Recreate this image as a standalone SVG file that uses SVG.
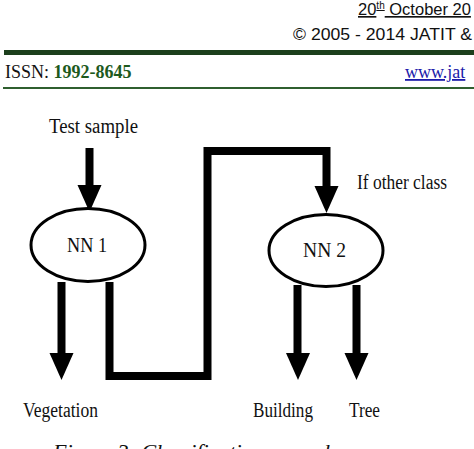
<svg xmlns="http://www.w3.org/2000/svg" width="474" height="449" viewBox="0 0 474 449">
<style>
.hdr{font-family:"Liberation Sans",Arial,sans-serif;fill:#111}
.tm{font-family:"Liberation Serif","Times New Roman",serif;fill:#111}
.lbl{font-family:"Liberation Serif","Times New Roman",serif;font-size:20px;fill:#111}
.node ellipse{fill:#fff;stroke:#000;stroke-width:3}
.wire{fill:none;stroke:#000;stroke-width:8;stroke-linejoin:miter;stroke-linecap:butt}
.head{fill:#000}
</style>
<defs>
<path id="ah" d="M-12,0 L12,0 L0,27 Z"/>
</defs>
<rect width="474" height="449" fill="#fff"/>
<g id="header">
<text class="hdr" x="358" y="15" font-size="16.5" text-decoration="underline">20<tspan font-size="10" dy="-6">th</tspan><tspan dy="6"> October 20</tspan></text>
<text class="hdr" x="293" y="40" font-size="17" textLength="179" lengthAdjust="spacingAndGlyphs">© 2005 - 2014 JATIT &amp;</text>
<rect x="4" y="50" width="470" height="5" fill="#1c3f1c"/>
<text class="tm" x="5" y="78" font-size="18">ISSN: <tspan fill="#1d5a1d" font-weight="bold">1992-8645</tspan></text>
<text class="tm" x="405" y="78" font-size="18" style="fill:#1a1aaa" text-decoration="underline">www.jat</text>
<rect x="3" y="87" width="471" height="2" fill="#2f5f2f"/>
</g>
<g id="connectors">
<path class="wire" d="M89.5,148 V187"/>
<use href="#ah" class="head" x="89.5" y="185"/>
<path class="wire" d="M61.5,282 V355"/>
<use href="#ah" class="head" x="61.5" y="353"/>
<path class="wire" d="M109.5,282 V376 H207.5 V151 H326.5 V187"/>
<use href="#ah" class="head" x="326.5" y="186"/>
<path class="wire" d="M297.5,285 V355"/>
<use href="#ah" class="head" x="298" y="353"/>
<path class="wire" d="M356.5,285 V355"/>
<use href="#ah" class="head" x="356.5" y="353"/>
</g>
<g id="nn1" class="node">
<ellipse cx="88" cy="245" rx="57" ry="36.5"/>
<text class="lbl" x="87" y="252" text-anchor="middle" textLength="40" lengthAdjust="spacingAndGlyphs">NN 1</text>
</g>
<g id="nn2" class="node">
<ellipse cx="326" cy="250.5" rx="57" ry="36"/>
<text class="lbl" x="324.5" y="257" text-anchor="middle" textLength="43" lengthAdjust="spacingAndGlyphs">NN 2</text>
</g>
<g id="labels">
<text class="lbl" x="49" y="133" textLength="89" lengthAdjust="spacingAndGlyphs">Test sample</text>
<text class="lbl" x="357" y="189" textLength="90" lengthAdjust="spacingAndGlyphs">If other class</text>
<text class="lbl" x="23" y="417" textLength="75" lengthAdjust="spacingAndGlyphs">Vegetation</text>
<text class="lbl" x="253" y="417" textLength="60" lengthAdjust="spacingAndGlyphs">Building</text>
<text class="lbl" x="349" y="417" textLength="31" lengthAdjust="spacingAndGlyphs">Tree</text>
</g>
<text class="lbl" x="53" y="459" style="font-size:22px;font-style:italic">Figure 3: Classification procedure</text>
</svg>
